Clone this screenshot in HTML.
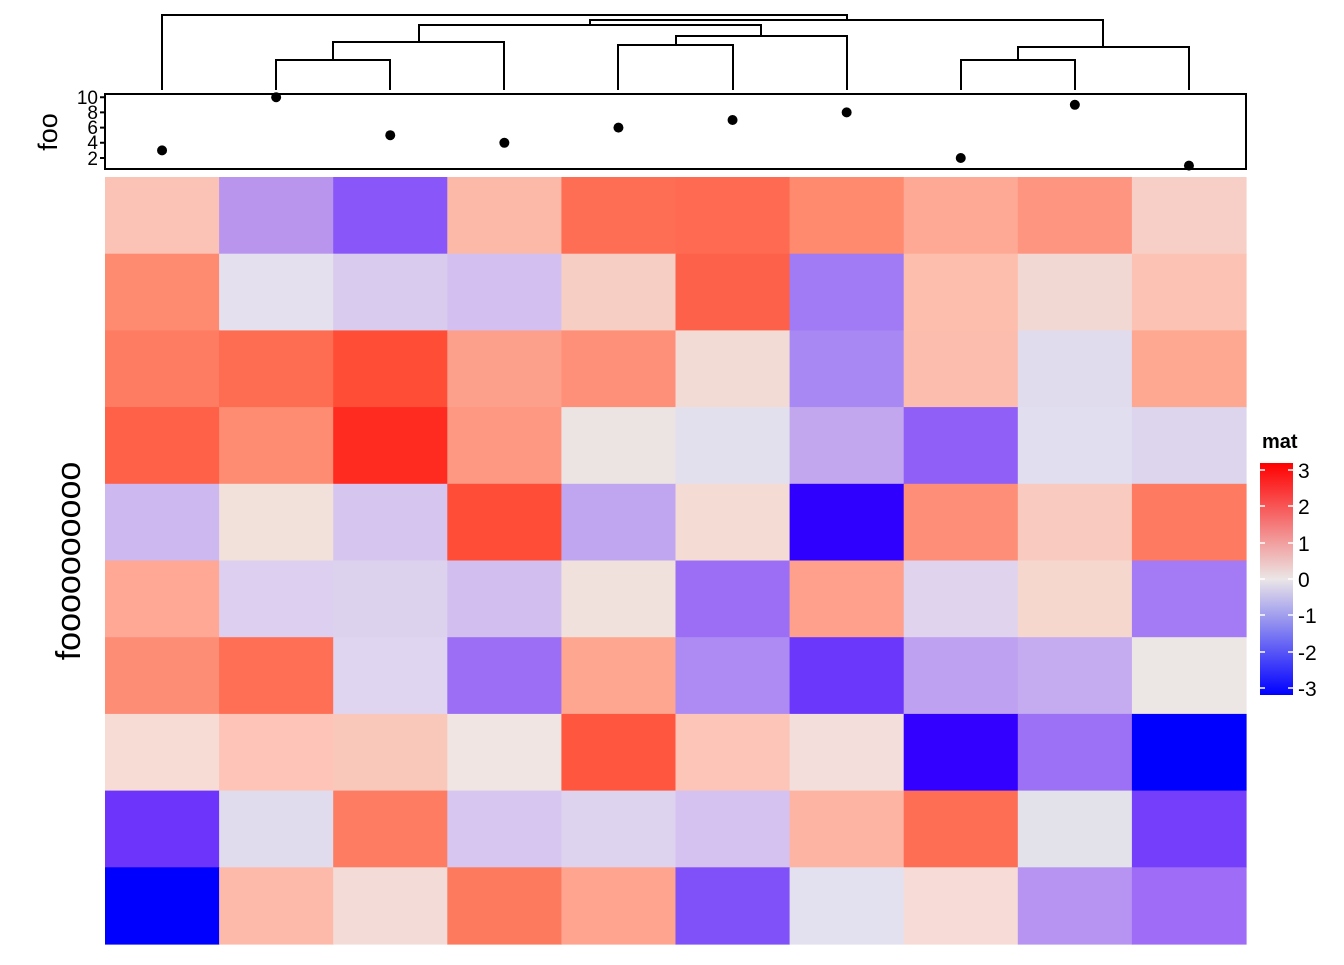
<!DOCTYPE html>
<html><head><meta charset="utf-8"><style>
html,body{margin:0;padding:0;background:#fff}
</style></head><body>
<svg width="1344" height="960" viewBox="0 0 1344 960" xmlns="http://www.w3.org/2000/svg" font-family="Liberation Sans, Arial, sans-serif">
<defs><linearGradient id="lg" x1="0" y1="0" x2="0" y2="1">
<stop offset="0" stop-color="#ff0000"/><stop offset="0.5" stop-color="#ebe6e6"/><stop offset="1" stop-color="#0000ff"/>
</linearGradient></defs>
<g id="cells"></g>
<g fill="none" stroke="#000" stroke-width="2">
<polyline points="162,90 162,15 847,15 847,20"/>
<polyline points="590,25 590,20 1103,20 1103,47"/>
<polyline points="419,42 419,25 761,25 761,36"/>
<polyline points="333,60 333,42 504,42 504,90"/>
<polyline points="276,90 276,60 390,60 390,90"/>
<polyline points="676,45 676,36 847,36 847,90"/>
<polyline points="618,90 618,45 733,45 733,90"/>
<polyline points="1018,60 1018,47 1189,47 1189,90"/>
<polyline points="961,90 961,60 1075,60 1075,90"/>
<rect x="105" y="94" width="1141" height="75"/>
<path d="M100,97.2h5M100,112.4h5M100,127.6h5M100,142.8h5M100,158h5"/>
</g>
<g font-size="19" text-anchor="end" fill="#000">
<text x="98" y="104">10</text><text x="98" y="119">8</text><text x="98" y="134">6</text><text x="98" y="149">4</text><text x="98" y="165">2</text>
</g>
<text transform="translate(57,132) rotate(-90)" font-size="27" text-anchor="middle">foo</text>
<text transform="translate(80,561) rotate(-90)" font-size="34" text-anchor="middle">foooooooooo</text>
<g id="pts" fill="#000"></g>
<text x="1262" y="448" font-size="20" font-weight="bold">mat</text>
<rect x="1260" y="463" width="33" height="232" fill="url(#lg)"/>
<g stroke="#fff" stroke-width="1.5">
<path d="M1260,470h5M1288,470h5M1260,506h5M1288,506h5M1260,543h5M1288,543h5M1260,579h5M1288,579h5M1260,615h5M1288,615h5M1260,652h5M1288,652h5M1260,688h5M1288,688h5"/>
</g>
<g font-size="21" fill="#000">
<text x="1298" y="478">3</text><text x="1298" y="514">2</text><text x="1298" y="551">1</text><text x="1298" y="587">0</text><text x="1298" y="623">-1</text><text x="1298" y="660">-2</text><text x="1298" y="696">-3</text>
</g>
<script>
var c=[
["#fbc3b5","#b995ee","#8957f9","#fdb9a8","#fe6e55","#fe6b52","#ff8a6e","#fea995","#fe9580","#f7cfc6"],
["#fe8a70","#e4e0ed","#d9cbee","#d3c0f0","#f7cec4","#fe6149","#a07bf5","#febeae","#f2d8d2","#fcc3b4"],
["#fe7d62","#fe6c51","#ff4d36","#fda08b","#fe8f78","#f2dbd5","#a888f3","#fdbdae","#e0dcee","#fea791"],
["#ff6048","#fe8c72","#ff2a20","#fe9882","#ebe4e3","#e3e0ee","#c3a7ee","#8f5ff7","#e1def0","#dcd5ed"],
["#cdb8f0","#f2e0db","#d6c6ef","#ff4d38","#c0a6f1","#f4dcd5","#3000fe","#fe8e77","#f9cbc0","#fe7a60"],
["#fea895","#dccff0","#dcd2ee","#d2bff0","#f1e1dc","#9c6ef6","#fea08b","#dfd3ee","#f5d7ce","#a47bf4"],
["#fe8d76","#fe6f55","#dfd5f0","#9c6ef6","#fea690","#ad8bf3","#6b37fb","#bea1f1","#c5abf0","#ece6e4"],
["#f6dcd5","#fdc4b7","#f9c8bb","#f0e5e2","#ff5640","#fcc5b8","#f3dedb","#3300ff","#9d71f5","#0000ff"],
["#6d35fb","#e0dcee","#fe7c62","#d7c6ef","#ddd3ef","#d5c2f1","#feb4a3","#fe6e55","#e3e1ea","#743efb"],
["#0000ff","#fdbaaa","#f3dcd7","#fe7a5e","#fea48f","#8050f8","#e3e1ef","#f7dbd6","#b793f2","#9e6cf6"]];
var ns="http://www.w3.org/2000/svg",g=document.getElementById("cells"),w=114.1,h=76.7;
for(var r=0;r<10;r++)for(var k=0;k<10;k++){var e=document.createElementNS(ns,"rect");
e.setAttribute("x",105+k*w);e.setAttribute("y",177+r*h);e.setAttribute("width",w+0.6);e.setAttribute("height",h+0.6);e.setAttribute("fill",c[r][k]);g.appendChild(e);}
var v=[3,10,5,4,6,7,8,2,9,1],p=document.getElementById("pts");
for(var i=0;i<10;i++){var e=document.createElementNS(ns,"circle");e.setAttribute("cx",105+(i+.5)*w);e.setAttribute("cy",158-(v[i]-2)*7.6);e.setAttribute("r",5);p.appendChild(e);}
</script>
</svg>
</body></html>
